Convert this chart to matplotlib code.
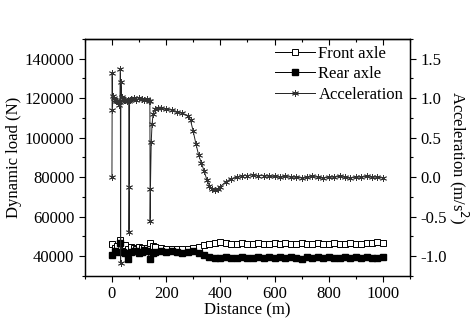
import matplotlib
matplotlib.use('Agg')
import matplotlib.pyplot as plt
from matplotlib.ticker import MultipleLocator

plt.rcParams['font.family'] = ['Liberation Serif', 'DejaVu Serif']
plt.rcParams['axes.unicode_minus'] = False

# acceleration (m/s^2) along the distance (m)
dist_acc = [0, 1, 2, 3, 6, 10, 15, 20, 26, 30, 31, 32, 33, 36, 40, 45, 50, 55, 60, 62, 63, 64, 65,
            70, 80, 90, 100, 110, 120, 130, 138, 140, 141, 142, 145, 148, 152, 160, 170, 180,
            200, 220, 240, 260, 280, 290, 300, 310, 320, 330, 340, 350, 360, 370, 380, 390,
            400, 420, 440, 460, 480, 500, 520, 540, 560, 580, 600, 620, 640, 660, 680, 700,
            720, 740, 760, 780, 800, 820, 840, 860, 880, 900, 920, 940, 960, 980, 1000]
acc = [0.0, 1.32, 0.85, 1.03, 1.0, 0.98, 0.97, 0.96, 0.91, 0.95, 1.37, -1.09, 1.2, 1.02, 0.99, 0.98, 0.98, 0.97, 0.98, 0.97, -0.70, -0.13, 0.98,
       0.99, 1.0, 0.98, 1.0, 0.99, 0.98, 0.99, 0.97, 0.96, -0.56, -0.15, 0.45, 0.67, 0.80, 0.86, 0.88, 0.87,
       0.86, 0.85, 0.83, 0.81, 0.78, 0.72, 0.58, 0.42, 0.28, 0.18, 0.08, -0.03, -0.11, -0.15, -0.16, -0.15,
       -0.12, -0.06, -0.02, 0.0, 0.02, 0.02, 0.03, 0.02, 0.02, 0.01, 0.01, 0.0, 0.01, 0.0, 0.0, -0.01,
       0.0, 0.01, 0.0, -0.01, 0.0, 0.0, 0.01, 0.0, -0.01, 0.0, 0.0, 0.01, 0.0, 0.0, -0.01]

# axle loads (N)
dist_axle = [0, 10, 20, 30, 40, 50, 60, 70, 80, 90, 100, 110, 120, 130, 140, 150, 160,
             180, 200, 220, 240, 260, 280, 300, 320, 340, 360, 380, 400, 420, 440, 460, 480,
             500, 520, 540, 560, 580, 600, 620, 640, 660, 680, 700, 720, 740, 760, 780, 800,
             820, 840, 860, 880, 900, 920, 940, 960, 980, 1000]
front = [46200, 44000, 45000, 48000, 44500, 45500, 43500, 44800, 44000, 43800, 44500, 44200, 44000, 44300, 46800, 45200, 44500,
         44000, 43800, 43500, 43800, 43600, 43800, 44200, 44500, 45500, 46300, 46800, 47000, 46800, 46300, 46200, 46400,
         46300, 46200, 46400, 46100, 46300, 46500, 46200, 46400, 46300, 46000, 46400, 46200, 46300, 46500, 46200, 46000,
         46400, 46300, 46200, 46500, 46300, 46200, 46400, 46800, 47000, 46600]
rear = [40500, 42500, 42000, 46500, 42000, 41500, 38300, 42000, 42800, 42500, 41500, 42200, 43000, 42500, 38800, 41500, 42200,
        42500, 42000, 42800, 42300, 41800, 42300, 42500, 41800, 40500, 39500, 39200, 39000, 39500, 39000, 39200, 39500,
        39000, 39300, 39600, 39000, 39400, 39200, 39500, 39000, 39600, 39300, 38800, 39500, 39200, 39400, 39000, 39600,
        39200, 39300, 39500, 39200, 39400, 39300, 39500, 39100, 39300, 39400]

fig = plt.figure(figsize=(4.74, 3.30), dpi=100)
ax = fig.add_axes([0.179, 0.164, 0.686, 0.718])
ax2 = ax.twinx()

l1, = ax.plot(dist_axle, front, color='black', lw=0.7, marker='s', ms=4,
              mfc='white', mec='black', mew=0.7, label='Front axle')
l2, = ax.plot(dist_axle, rear, color='black', lw=0.7, marker='s', ms=4.5,
              mfc='black', mec='black', label='Rear axle')
l3, = ax2.plot(dist_acc, acc, color='#222222', lw=0.7, marker=(6, 2, 0), ms=5,
               mec='#333333', mew=0.6, label='Acceleration')

ax.set_xlim(-100, 1100)
ax.set_ylim(30000, 150000)
ax2.set_ylim(-1.25, 1.75)

ax.xaxis.set_major_locator(MultipleLocator(200))
ax.xaxis.set_minor_locator(MultipleLocator(100))
ax.set_yticks([40000, 60000, 80000, 100000, 120000, 140000])
ax.yaxis.set_minor_locator(MultipleLocator(10000))
ax2.set_yticks([-1.0, -0.5, 0.0, 0.5, 1.0, 1.5])
ax2.yaxis.set_minor_locator(MultipleLocator(0.25))
ax2.set_yticklabels(['-1.0', '-0.5', '0.0', '0.5', '1.0', '1.5'])

ax.tick_params(axis='both', which='major', labelsize=12, direction='out', length=4, width=0.8)
ax.tick_params(axis='both', which='minor', direction='out', length=2.5, width=0.8)
ax2.tick_params(axis='y', which='major', labelsize=12, direction='out', length=4, width=0.8)
ax2.tick_params(axis='y', which='minor', direction='out', length=2.5, width=0.8)

# top axis: ticks pointing inwards, no labels
top = ax.secondary_xaxis('top')
top.xaxis.set_major_locator(MultipleLocator(200))
top.xaxis.set_minor_locator(MultipleLocator(100))
top.tick_params(which='major', direction='in', length=4, width=0.8, labeltop=False)
top.tick_params(which='minor', direction='in', length=2.5, width=0.8)
top.spines['top'].set_linewidth(0.9)

ax.set_xlabel('Distance (m)', fontsize=12, labelpad=0)
ax.set_ylabel('Dynamic load (N)', fontsize=12, labelpad=2)
ax2.set_ylabel('Acceleration (m/s$^2$)', fontsize=12, rotation=270, labelpad=17)

for a in (ax, ax2):
    for s in a.spines.values():
        s.set_linewidth(0.9)

ax.legend(handles=[l1, l2, l3], loc='upper right', frameon=False, fontsize=12,
          handlelength=2.4, handletextpad=0.2, labelspacing=0.28,
          borderaxespad=0.0, bbox_to_anchor=(1.0, 1.0))

fig.savefig('out.png', dpi=100)
